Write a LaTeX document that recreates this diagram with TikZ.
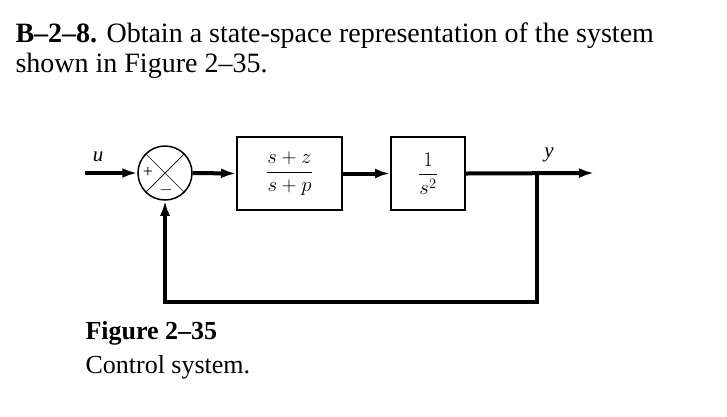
\documentclass[tikz,border=0pt]{standalone}
\usepackage{amsmath}
\usepackage{fontspec}
\setmainfont{Liberation Serif}
\usetikzlibrary{arrows.meta}
\begin{document}
\begin{tikzpicture}[x=1pt,y=-1pt,
  sig/.style={line width=4pt,-{Latex[length=15pt,width=10pt]}},
  blk/.style={draw,line width=2pt,minimum width=#1,minimum height=73pt,inner sep=0pt},
  lbl/.style={font=\fontsize{21}{22}\selectfont\itshape}]
\useasboundingbox (0,0) rectangle (727,416);
\node[anchor=base west,font=\fontsize{28}{32}\selectfont] (t1) at (12,42) {\textbf{B–2–8.} Obtain a state-space representation of the system};
\node[anchor=base west,font=\fontsize{28}{32}\selectfont] (t2) at (12,72) {shown in Figure 2–35.};
\node[draw,circle,line width=1.5pt,minimum size=54pt,inner sep=0pt] (sum) at (165,173) {};
\draw[line width=0.7pt] (sum.45)--(sum.225) (sum.135)--(sum.315);
\node[font=\fontsize{18}{18}\selectfont] (plus) at (148,172) {+};
\node[font=\fontsize{18}{18}\selectfont] (minus) at (166,190) {$-$};
\node[blk=105pt] (b1) at (289.5,173.5) {\fontsize{22}{24}\selectfont$\dfrac{s+z}{s+p}$};
\node[blk=74pt] (b2) at (428,173.5) {\fontsize{22}{24}\selectfont$\dfrac{1}{s^2}$};
\coordinate (in) at (85,173);
\coordinate (out) at (594,173);
\coordinate (br) at (537,173);
\coordinate (bl) at (537,302);
\coordinate (bs) at (165,302);
\draw[sig] (in)--(sum.west);
\draw[sig] (sum.east)--(b1.west);
\draw[sig] (b1.east)--(b2.west);
\draw[sig] (b2.east)--(out);
\draw[sig] (br)--(bl)--(bs)--(sum.south);
\node[lbl] (u) at (98,157) {u};
\node[lbl] (y) at (549,155) {y};
\node[anchor=base west,font=\fontsize{26}{30}\selectfont\bfseries] (c1) at (82,339) {Figure 2–35};
\node[anchor=base west,font=\fontsize{26}{30}\selectfont] (c2) at (82,373) {Control system.};
\end{tikzpicture}
\end{document}
